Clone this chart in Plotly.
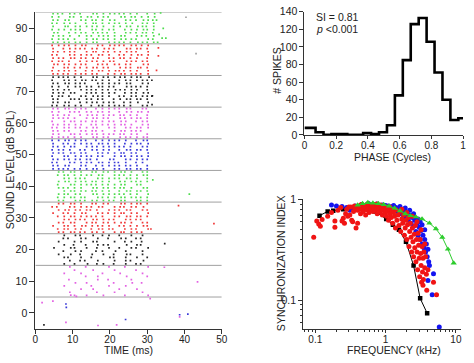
import plotly.graph_objects as go

W, H = 474, 363
FONT = "Liberation Sans, Arial, sans-serif"
AX = "#333333"

# ---------------- Raster data (left panel) ----------------
# each row = one trial; each character = one stimulus cycle (1.5 ms) starting at 4.0 ms;
# digit = spike position within the cycle in 0.25 ms steps, '.' = no spike
levels = [90, 80, 70, 60, 50, 40, 30, 20, 10]
band_colors = ["#3ad83a", "#ee2222", "#111111", "#e050e0", "#2424d4",
               "#3ad83a", "#ee2222", "#111111", "#e050e0"]
rows_90 = ["32132 2.423 43212 3.24", "23.31 34233 2.423 1234", "3242. 32312 43.32 2432",
           "21333 .2412 33234 .323", "3.413 23323 .2342 4313", "23343 2.312 32.23 3423",
           "42.23 32432 13.32 2312", "3323. 13243 2342. 3213", "23212 .3423 23433 2.32",
           "32323 2342. 33212 4323"]
rows_80 = ["23323 42.32 43213 223.", "3.233 21324 32.42 312.", "32332 .3413 23343 2.3.",
           "21.32 33242 3.213 423.", "33242 3243. 32312 3.2.", "2312. 23323 42.43 232.",
           "42323 32.32 13232 .43.", "3.312 23423 2.332 412.", "23323 .2342 34212 3.3.",
           "32213 3232. 23423 213."]
rows_70 = ["33212 3.423 23323 314.", "2.323 42312 3.232 3321", "32423 21.32 33242 .33.",
           "23.13 23242 32.43 212.", "3232. 33212 24323 3.2.", "33242 .3212 33.23 243.",
           "2312. 32432 3.213 2321", "32.42 13232 .2342 312.", "3242. 23323 32.12 4.3.",
           "21323 3.242 33212 .32."]
rows_60 = ["32423 32.12 33242 .31.", "23.32 13232 3.243 423.", "3232. 24323 32312 3.2.",
           "33212 .3423 2.323 312.", "2.342 32312 3243. 232.", "32323 3.212 23423 .33.",
           "21323 2342. 33.32 313.", "3232. 32312 .3423 21..", "33.42 23323 32313 3.2.",
           "23212 3.423 2.332 342."]
rows_50 = ["23423 32.12 3323. 242.", "3.212 33242 23.23 313.", "32342 .3323 33212 .32.",
           "2323. 21323 3.242 312.", "33242 32.32 23413 2.3.", "2.313 33232 .3423 323.",
           "32323 2312. 42.32 332.", "21.32 33242 3313. 23..", "3242. 32.12 33232 3.2.",
           "33212 23423 .3242 312."]
rows_40 = [".3242 3.313 23423 .32.", ".2312 33242 .3212 342.", "..323 21.32 33242 3.2.",
           ".3423 32312 3.323 212.", ".2.42 33212 2342. 31..", ".3212 3.423 23313 .42.",
           "..342 32312 3.242 312.", ".3313 2.423 33212 3.3.", ".2342 31.32 23423 212.",
           ".32.3 21323 3242. 312."]
rows_30 = [".3242 3.313 2.423 312.", "21.32 33242 .3313 24..", ".3423 2312. 33242 .32.",
           "3.212 42.32 23413 3.3.", ".2342 33212 .3242 312.", "..323 21423 32.32 21..",
           ".3242 .3313 23423 .32.", "3.312 42332 3.212 342.", ".2313 3.242 31.23 2.3.",
           ".3242 21323 .3413 32.."]
rows_20 = ["..3.3 2.4.2 3.2.3 .3..", "..21. 32.3. 2.43. 21..", ".3..2 3.42. .3.23 .2..",
           "..3.1 .2.33 2..4. 31..", "...42 .3.2. 3.2.3 2.3.", "..2.3 3..12 .4.3. .3..",
           ".3.4. 2.3.3 .2.42 .3..", "..31. 3.2.. 42.3. 3.2.", "...3. 21.3. .3.32 .4..",
           "..3.2 .4.23 .2.3. 21.."]
rows_10 = ["...3. .2... 3..2. ..3.", "....2 ..4.. .3... 2...", "..3.. 3...2 ..3.. .3..",
           "..... .2.3. ...4. ..2.", "...2. ...3. 2...3 ....", "....3 .3... .2..4 .2..",
           "..3.. ..2.. 3..3. ....", "..... 3.4.. ..2.. 3...", "...3. ...2. .3... .3..",
           "....2 .3..3 ...2. ..3."]
band_rows = [rows_90, rows_80, rows_70, rows_60, rows_50, rows_40, rows_30, rows_20, rows_10]
T0, CYCLE, STEP = 4.0, 1.5, 0.25

# isolated spikes (time ms, level dB, colour)
stray_t = [32.5, 33.2, 33.6, 34.3, 34.0, 35.0, 32.8, 40.4,
           33.0, 33.0, 32.5, 43.1, 31.4, 31.3, 41.3, 31.5,
           38.4, 47.9, 31.0, 34.7, 5.0, 34.6, 43.5, 30.8,
           1.8, 4.7, 8.2, 8.3, 8.2, 2.3, 16.8, 21.8, 24.2, 38.7, 38.7, 40.9, 11.0, 9.5]
stray_y = [92.5, 88.0, 94.8, 89.9, 86.8, 86.8, 85.5, 93.4,
           83.7, 81.2, 76.6, 81.9, 68.6, 65.8, 37.5, 42.0,
           33.9, 28.2, 26.5, 21.9, 20.5, 14.4, 9.8, 4.5,
           3.2, 3.7, 2.8, 1.7, -3.0, -3.8, -4.0, -3.8, -2.1, -0.6, -1.3, -0.4, 5.2, 5.6]
stray_c = ["#3ad83a"] * 7 + ["#999999"] + ["#ee2222"] * 3 + ["#999999"] + ["#111111"] * 2 + \
          ["#3ad83a"] * 2 + ["#ee2222"] * 3 + ["#111111"] * 2 + ["#e050e0"] * 3 + \
          ["#e050e0", "#e050e0", "#2424d4", "#2424d4", "#e050e0", "#111111", "#e050e0",
           "#e050e0", "#2424d4", "#2424d4", "#e050e0", "#2424d4", "#e050e0", "#e050e0"]

# ---------------- Phase histogram (top right) ----------------
hist_edges = [0.0, 0.07, 0.12, 0.17, 0.22, 0.27, 0.32, 0.37, 0.42, 0.47, 0.52,
              0.57, 0.62, 0.67, 0.72, 0.77, 0.82, 0.87, 0.92, 0.97, 1.0]
hist_counts = [8, 3, 0, 1, 1, 0, 0, 2, 1, 3, 11, 45, 85, 126, 133, 106, 71, 40, 17, 19]

# ---------------- Synchronization index vs frequency (bottom right) ----------------
black_f = [0.115, 0.15, 0.18, 0.25, 0.35, 0.5, 0.7, 1.02, 1.27, 1.55, 1.95, 2.5, 3.1, 3.9]
black_si = [0.69, 0.76, 0.77, 0.80, 0.81, 0.80, 0.76, 0.64, 0.56, 0.50, 0.38, 0.22, 0.104, 0.074]
green_f = [0.40, 0.47, 0.56, 0.66, 0.79, 0.94, 1.12, 1.34, 1.6, 1.9, 2.25, 2.7, 3.3, 4.2, 5.2, 6.4, 7.7, 9.3]
green_si = [0.88, 0.91, 0.93, 0.92, 0.91, 0.89, 0.86, 0.82, 0.77, 0.72, 0.69, 0.67, 0.64, 0.58,
            0.51, 0.42, 0.32, 0.233]
red_f = [0.095, 0.105, 0.112, 0.118, 0.125, 0.15, 0.17, 0.19, 0.19, 0.21, 0.23, 0.24, 0.25, 0.26,
         0.27, 0.28, 0.29, 0.31, 0.32, 0.33, 0.34, 0.35, 0.37, 0.38, 0.40, 0.40, 0.42, 0.44, 0.45,
         0.47, 0.48, 0.50, 0.52, 0.53, 0.55, 0.57, 0.58, 0.60, 0.62, 0.64, 0.66, 0.68, 0.70, 0.72,
         0.74, 0.76, 0.78, 0.80, 0.83, 0.85, 0.88, 0.90, 0.92, 0.95, 0.98, 1.0, 1.03, 1.05, 1.08,
         1.1, 1.13, 1.16, 1.2, 1.23, 1.26, 1.3, 1.34, 1.38, 1.4, 1.45, 1.5, 1.55, 1.6, 1.64, 1.7,
         1.75, 1.8, 1.85, 1.9, 1.95, 2.0, 2.05, 2.1, 2.15, 2.2, 2.25, 2.3, 2.35, 2.4, 2.45, 2.5,
         2.55, 2.6, 2.65, 2.7, 2.75, 2.8, 2.85, 2.9, 2.95, 3.0, 3.05, 3.1, 3.15, 3.2, 3.25, 3.3,
         3.35, 3.4, 3.45, 3.5, 3.6, 3.7, 3.8, 3.85, 3.4, 4.0, 4.8, 5.3, 3.6, 3.2, 2.8, 2.4, 2.0,
         1.7, 0.36, 0.55, 0.65, 0.45, 0.3, 0.85, 1.15, 0.75, 0.5]
red_si = [0.42, 0.61, 0.57, 0.54, 0.63, 0.68, 0.74, 0.61, 0.53, 0.78, 0.83, 0.61, 0.65, 0.58,
          0.72, 0.80, 0.68, 0.70, 0.84, 0.62, 0.60, 0.76, 0.82, 0.52, 0.58, 0.78, 0.86, 0.72, 0.80,
          0.88, 0.76, 0.83, 0.70, 0.87, 0.79, 0.84, 0.74, 0.88, 0.80, 0.85, 0.76, 0.82, 0.89, 0.78,
          0.84, 0.72, 0.86, 0.80, 0.75, 0.87, 0.82, 0.70, 0.78, 0.85, 0.74, 0.80, 0.68, 0.84, 0.76,
          0.62, 0.80, 0.72, 0.66, 0.78, 0.58, 0.74, 0.68, 0.52, 0.79, 0.62, 0.70, 0.55, 0.76, 0.48,
          0.64, 0.58, 0.70, 0.44, 0.52, 0.62, 0.40, 0.56, 0.66, 0.34, 0.48, 0.58, 0.42, 0.30, 0.52,
          0.38, 0.27, 0.45, 0.33, 0.55, 0.24, 0.40, 0.30, 0.20, 0.46, 0.35, 0.26, 0.17, 0.40, 0.29,
          0.22, 0.15, 0.34, 0.19, 0.26, 0.16, 0.30, 0.21, 0.27, 0.18, 0.125, 0.14, 0.20, 0.15, 0.113,
          0.36, 0.50, 0.60, 0.68, 0.74, 0.80, 0.86, 0.90, 0.87, 0.89, 0.84, 0.88, 0.84, 0.90, 0.85]
blue_f = [0.17, 0.2, 0.24, 0.28, 0.31, 0.34, 0.37, 0.40, 0.43, 0.46, 0.5, 0.53, 0.57, 0.6, 0.65,
          0.7, 0.75, 0.8, 0.85, 0.9, 0.95, 1.0, 1.05, 1.1, 1.18, 1.25, 1.32, 1.4, 1.48, 1.55, 1.62,
          1.7, 1.78, 1.86, 1.95, 2.0, 2.1, 2.2, 2.3, 2.4, 2.5, 2.6, 2.7, 2.8, 2.9, 3.0, 3.1, 3.2,
          3.3, 3.4, 3.5, 3.6, 3.7, 3.8, 3.9, 4.0, 4.1, 4.2, 4.0, 4.6, 4.8, 5.8, 3.3, 2.9, 2.5, 2.2,
          1.9, 1.6, 1.3, 3.6, 3.1]
blue_si = [0.88, 0.86, 0.85, 0.83, 0.78, 0.82, 0.86, 0.80, 0.84, 0.89, 0.82, 0.86, 0.91, 0.84,
           0.88, 0.82, 0.90, 0.86, 0.81, 0.88, 0.84, 0.87, 0.82, 0.86, 0.80, 0.85, 0.78, 0.83, 0.76,
           0.81, 0.72, 0.79, 0.70, 0.76, 0.66, 0.73, 0.62, 0.70, 0.58, 0.66, 0.54, 0.62, 0.48, 0.58,
           0.44, 0.53, 0.40, 0.49, 0.36, 0.44, 0.33, 0.40, 0.30, 0.36, 0.27, 0.32, 0.24, 0.22, 0.156,
           0.113, 0.183, 0.054, 0.56, 0.64, 0.72, 0.78, 0.82, 0.85, 0.87, 0.50, 0.60]

# ---------------- build figure ----------------
def pxx(x):
    return x / W


def pyy(y):
    return 1 - y / H


fig = go.Figure()

# raster spikes
for lvl, col, rows in zip(levels, band_colors, band_rows):
    ts, ys = [], []
    for r, s in enumerate(rows):
        s = s.replace(" ", "")
        for k, ch in enumerate(s):
            if ch != ".":
                ts.append(T0 + CYCLE * k + STEP * int(ch))
                ys.append(lvl + 4.5 - r)
    fig.add_trace(go.Scatter(x=ts, y=ys, mode="markers", xaxis="x", yaxis="y",
                             marker=dict(symbol="square", size=1.7, color=col, opacity=0.9,
                                         line=dict(width=0)),
                             showlegend=False, hoverinfo="skip"))
fig.add_trace(go.Scatter(x=stray_t, y=stray_y, mode="markers", xaxis="x", yaxis="y",
                         marker=dict(symbol="square", size=1.7, color=stray_c, opacity=0.9,
                                     line=dict(width=0)),
                         showlegend=False, hoverinfo="skip"))

# band separators
for b in [l + 5 for l in levels + [0]]:
    fig.add_shape(type="line", xref="x", yref="y", x0=0, x1=50, y0=b, y1=b,
                  line=dict(color="#a0a0a0", width=1), layer="below")

# histogram
hx = hist_edges[:-1] + [hist_edges[-1]]
hy = hist_counts + [hist_counts[-1]]
fig.add_trace(go.Scatter(x=hx, y=hy, mode="lines", line=dict(shape="hv", color="black", width=2.6),
                         xaxis="x2", yaxis="y2", showlegend=False, cliponaxis=False))

# SI vs frequency
fig.add_trace(go.Scatter(x=black_f, y=black_si, mode="lines+markers", xaxis="x3", yaxis="y3",
                         line=dict(color="black", width=1),
                         marker=dict(symbol="square", size=4.5, color="black"), showlegend=False))
fig.add_trace(go.Scatter(x=blue_f, y=blue_si, mode="markers", xaxis="x3", yaxis="y3",
                         marker=dict(symbol="circle", size=5, color="#1414f0"), showlegend=False))
fig.add_trace(go.Scatter(x=red_f, y=red_si, mode="markers", xaxis="x3", yaxis="y3",
                         marker=dict(symbol="circle", size=5, color="#f01414"), showlegend=False))
fig.add_trace(go.Scatter(x=green_f, y=green_si, mode="lines+markers", xaxis="x3", yaxis="y3",
                         line=dict(color="#2ccc2c", width=1),
                         marker=dict(symbol="triangle-up", size=5.5, color="#2ccc2c"), showlegend=False))

tickfont = dict(family=FONT, size=10.5, color="#222222")
xtickfont = dict(family=FONT, size=10, color="#222222")
common = dict(showline=True, linecolor=AX, linewidth=1, ticks="outside", tickcolor=AX,
              showgrid=False, zeroline=False)

minor_x = [m * 10 ** e for e in (-2, -1, 0, 1) for m in range(2, 10)]
fig.update_layout(
    width=W, height=H, margin=dict(l=0, r=0, t=0, b=0),
    paper_bgcolor="white", plot_bgcolor="white",
    font=dict(family=FONT, size=10.5, color="#222222"),
    xaxis=dict(domain=[pxx(33), pxx(223)], range=[0, 50], dtick=10, ticklen=4, anchor="y",
               tickfont=xtickfont, ticklabelstandoff=-3, **common),
    yaxis=dict(domain=[pyy(333.7), pyy(6.4)], range=[-5, 95], tickvals=[0, 10, 20, 30, 40, 50, 60, 70, 80, 90],
               ticklen=5, anchor="x", tickfont=tickfont, **common),
    xaxis2=dict(domain=[pxx(307.3), pxx(469)], range=[0, 1], dtick=0.2, ticklen=3, anchor="y2",
                tickfont=xtickfont, ticklabelstandoff=-2, **common),
    yaxis2=dict(domain=[pyy(133.3), pyy(6)], range=[0, 140], dtick=20, ticklen=4, anchor="x2",
                tickfont=tickfont, **common),
    xaxis3=dict(type="log", domain=[pxx(306), pxx(466.7)], range=[-1.172, 1.07],
                tickvals=[0.1, 1, 10], ticktext=["0.1", "1", "10"], ticklen=3, anchor="y3",
                tickfont=xtickfont, ticklabelstandoff=-2,
                minor=dict(tickvals=minor_x, ticks="outside", ticklen=2, tickcolor=AX), **common),
    yaxis3=dict(type="log", domain=[pyy(334.3), pyy(199.3)], range=[-1.29, 0.007],
                tickvals=[0.1, 1], ticktext=["0.1", "1"], ticklen=4, anchor="x3", tickfont=tickfont,
                minor=dict(tickvals=minor_x, ticks="outside", ticklen=2, tickcolor=AX), **common),
)

title_font = dict(family=FONT, size=10.5, color="#222222")
annos = [
    dict(text="SOUND LEVEL (dB SPL)", x=pxx(8), y=pyy(169), textangle=-90, yanchor="middle"),
    dict(text="TIME (ms)", x=pxx(128), y=0, yanchor="bottom"),
    dict(text="# SPIKES", x=pxx(279.3), y=pyy(66), textangle=-90, yanchor="middle"),
    dict(text="PHASE (Cycles)", x=pxx(397.5), y=pyy(156.5), yanchor="middle"),
    dict(text="SYNCHRONIZATION INDEX", x=pxx(283.3), y=pyy(266), textangle=-90, yanchor="middle"),
    dict(text="FREQUENCY (kHz)", x=pxx(399), y=0, yanchor="bottom"),
]
for a in annos:
    fig.add_annotation(xref="paper", yref="paper", showarrow=False, font=title_font,
                       xanchor="center", borderpad=0, **a)
fig.add_annotation(xref="paper", yref="paper", showarrow=False, font=title_font,
                   text="SI = 0.81", x=pxx(317), y=pyy(11), xanchor="left", yanchor="middle")
fig.add_annotation(xref="paper", yref="paper", showarrow=False, font=title_font,
                   text="<i>p</i> &lt;0.001", x=pxx(317), y=pyy(24), xanchor="left", yanchor="middle")

fig.write_html("out.html", config={"displayModeBar": False},
               post_script="document.body.style.margin='0px';document.body.style.overflow='hidden';")
